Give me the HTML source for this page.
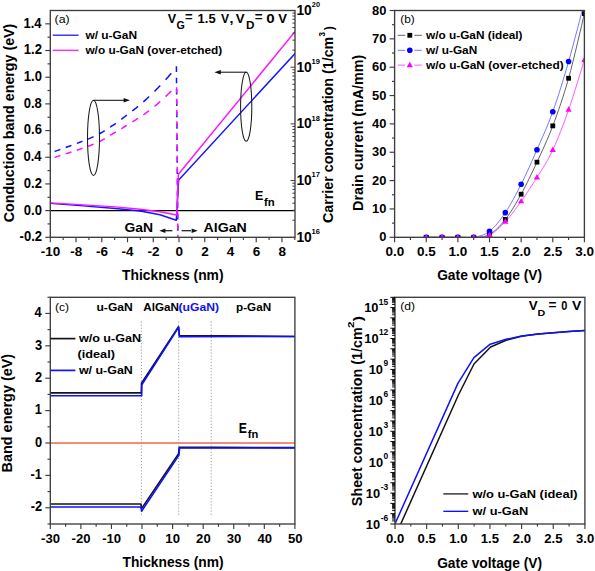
<!DOCTYPE html><html><head><meta charset="utf-8"><style>html,body{margin:0;padding:0;background:#fff;overflow:hidden}svg{display:block}</style></head><body><svg width="595" height="571" viewBox="0 0 595 571" style="font-family:&quot;Liberation Sans&quot;, sans-serif">
<rect width="595" height="571" fill="#fff"/>
<clipPath id="ca"><rect x="50.3" y="10.5" width="244.7" height="226.8"/></clipPath>
<g clip-path="url(#ca)">
<line x1="50.3" y1="210.7" x2="295" y2="210.7" stroke="#000" stroke-width="1.3" />
<polyline points="54.6,151.53 55.59,151.16 56.98,150.65 58.55,150.08 60.29,149.45 60.3,149.45" fill="none" stroke="#1010ff" stroke-width="1.5" stroke-linejoin="round" stroke-linecap="butt"/>
<polyline points="65.7,147.49 66.25,147.29 68.43,146.5 70.66,145.68 71.4,145.41" fill="none" stroke="#1010ff" stroke-width="1.5" stroke-linejoin="round" stroke-linecap="butt"/>
<polyline points="76.8,143.4 77.55,143.12 79.84,142.25 82.09,141.39 82.5,141.23" fill="none" stroke="#1010ff" stroke-width="1.5" stroke-linejoin="round" stroke-linecap="butt"/>
<polyline points="87.9,139.08 88.42,138.87 90.32,138.08 92.09,137.32 93.6,136.64" fill="none" stroke="#1010ff" stroke-width="1.5" stroke-linejoin="round" stroke-linecap="butt"/>
<polyline points="99,133.97 99.42,133.74 100.73,133.02 102,132.3 103.23,131.58 104.4,130.87 104.7,130.69" fill="none" stroke="#1010ff" stroke-width="1.5" stroke-linejoin="round" stroke-linecap="butt"/>
<polyline points="110.1,127.2 110.62,126.85 111.52,126.24 112.39,125.66 113.22,125.1 114.01,124.57 114.77,124.07 115.5,123.6 115.8,123.41" fill="none" stroke="#1010ff" stroke-width="1.5" stroke-linejoin="round" stroke-linecap="butt"/>
<polyline points="121.2,119.38 121.66,119.02 122.2,118.6 122.82,118.13 123.49,117.62 124.22,117.07 124.99,116.48 125.8,115.86 126.65,115.22 126.9,115.03" fill="none" stroke="#1010ff" stroke-width="1.5" stroke-linejoin="round" stroke-linecap="butt"/>
<polyline points="132.3,110.91 133.07,110.32 133.99,109.61 134.88,108.91 135.76,108.22 136.6,107.55 137.41,106.91 138,106.43" fill="none" stroke="#1010ff" stroke-width="1.5" stroke-linejoin="round" stroke-linecap="butt"/>
<polyline points="143.4,101.85 143.72,101.56 144.25,101.09 144.77,100.61 145.29,100.14 145.8,99.67 146.31,99.2 146.82,98.72 147.33,98.24 147.84,97.75 148.37,97.25 148.9,96.75 149.1,96.56" fill="none" stroke="#1010ff" stroke-width="1.5" stroke-linejoin="round" stroke-linecap="butt"/>
<polyline points="154.5,91.33 154.64,91.19 155.23,90.6 155.82,90.02 156.4,89.43 156.99,88.84 157.57,88.26 158.15,87.67 158.72,87.08 159.29,86.5 159.85,85.92 160.2,85.56" fill="none" stroke="#1010ff" stroke-width="1.5" stroke-linejoin="round" stroke-linecap="butt"/>
<polyline points="165.6,79.75 165.99,79.31 166.55,78.69 167.09,78.08 167.63,77.47 168.15,76.89 168.65,76.32 169.14,75.77 169.6,75.25 170.04,74.75 170.45,74.28 170.83,73.85 171.18,73.46 171.3,73.32" fill="none" stroke="#1010ff" stroke-width="1.5" stroke-linejoin="round" stroke-linecap="butt"/>
<polyline points="54.6,157.43 55.59,157.11 56.98,156.65 58.55,156.14 60.29,155.58 60.3,155.58" fill="none" stroke="#ff10ff" stroke-width="1.5" stroke-linejoin="round" stroke-linecap="butt"/>
<polyline points="65.7,153.84 66.25,153.66 68.43,152.96 70.66,152.23 71.4,151.99" fill="none" stroke="#ff10ff" stroke-width="1.5" stroke-linejoin="round" stroke-linecap="butt"/>
<polyline points="76.8,150.2 77.55,149.95 79.84,149.18 82.09,148.4 82.5,148.26" fill="none" stroke="#ff10ff" stroke-width="1.5" stroke-linejoin="round" stroke-linecap="butt"/>
<polyline points="87.9,146.34 88.42,146.15 90.32,145.44 92.09,144.75 93.6,144.14" fill="none" stroke="#ff10ff" stroke-width="1.5" stroke-linejoin="round" stroke-linecap="butt"/>
<polyline points="99,141.72 99.15,141.65 100.34,141.06 101.48,140.47 102.56,139.89 103.6,139.31 104.61,138.73 104.7,138.68" fill="none" stroke="#ff10ff" stroke-width="1.5" stroke-linejoin="round" stroke-linecap="butt"/>
<polyline points="110.1,135.38 110.35,135.23 111.32,134.62 112.31,134.01 113.33,133.39 114.39,132.75 115.5,132.1 115.8,131.92" fill="none" stroke="#ff10ff" stroke-width="1.5" stroke-linejoin="round" stroke-linecap="butt"/>
<polyline points="121.2,128.73 121.53,128.54 122.79,127.78 124.06,127.01 125.34,126.24 126.61,125.47 126.9,125.29" fill="none" stroke="#ff10ff" stroke-width="1.5" stroke-linejoin="round" stroke-linecap="butt"/>
<polyline points="132.3,121.96 132.73,121.69 133.88,120.98 134.98,120.29 136.04,119.62 137.05,118.98 138,118.38" fill="none" stroke="#ff10ff" stroke-width="1.5" stroke-linejoin="round" stroke-linecap="butt"/>
<polyline points="143.4,114.82 143.68,114.63 144.21,114.26 144.71,113.9 145.19,113.55 145.66,113.21 146.12,112.87 146.58,112.53 147.03,112.19 147.49,111.84 147.95,111.48 148.43,111.11 148.93,110.73 149.1,110.59" fill="none" stroke="#ff10ff" stroke-width="1.5" stroke-linejoin="round" stroke-linecap="butt"/>
<polyline points="154.5,106.34 154.6,106.26 155.18,105.79 155.76,105.31 156.34,104.83 156.92,104.35 157.5,103.86 158.07,103.37 158.65,102.88 159.23,102.39 159.8,101.89 160.2,101.54" fill="none" stroke="#ff10ff" stroke-width="1.5" stroke-linejoin="round" stroke-linecap="butt"/>
<polyline points="165.6,96.59 165.77,96.44 166.39,95.84 167.01,95.24 167.62,94.64 168.22,94.06 168.81,93.49 169.37,92.94 169.91,92.41 170.43,91.91 170.92,91.43 171.3,91.06" fill="none" stroke="#ff10ff" stroke-width="1.5" stroke-linejoin="round" stroke-linecap="butt"/>
<line x1="176.4" y1="66.3" x2="177.9" y2="240" stroke="#1010ff" stroke-width="1.5" stroke-dasharray="5.6 5.75"/>
<line x1="176.6" y1="87.3" x2="177.9" y2="240" stroke="#ff10ff" stroke-width="1.5" stroke-dasharray="5.8 5.55"/>
<polyline points="50.3,203.4 80,205.6 115.5,208.5 140,211 160,214.8 176.3,220.2 178.7,180 296,52.56" fill="none" stroke="#1414ff" stroke-width="1.45" stroke-linejoin="round" />
<polyline points="50.3,202.9 80,204.6 115.5,206.9 140,209.2 160,211.8 176.7,215 178.4,174.3 296,30.34" fill="none" stroke="#ff14ff" stroke-width="1.45" stroke-linejoin="round" />
</g>
<rect x="50.3" y="10.5" width="244.7" height="226.8" fill="none" stroke="#3d3d3d" stroke-width="1.35"/>
<line x1="45.3" y1="237.28" x2="50.3" y2="237.28" stroke="#3d3d3d" stroke-width="1.15" />
<text transform="translate(19.55,241.18) scale(0.9200,1)" font-size="14.2" font-weight="bold" fill="#000">-0.2</text>
<line x1="47.5" y1="223.94" x2="50.3" y2="223.94" stroke="#3d3d3d" stroke-width="1.15" />
<line x1="45.3" y1="210.6" x2="50.3" y2="210.6" stroke="#3d3d3d" stroke-width="1.15" />
<text transform="translate(23.86,214.5) scale(0.9200,1)" font-size="14.2" font-weight="bold" fill="#000">0.0</text>
<line x1="47.5" y1="197.26" x2="50.3" y2="197.26" stroke="#3d3d3d" stroke-width="1.15" />
<line x1="45.3" y1="183.92" x2="50.3" y2="183.92" stroke="#3d3d3d" stroke-width="1.15" />
<text transform="translate(23.86,187.82) scale(0.9200,1)" font-size="14.2" font-weight="bold" fill="#000">0.2</text>
<line x1="47.5" y1="170.58" x2="50.3" y2="170.58" stroke="#3d3d3d" stroke-width="1.15" />
<line x1="45.3" y1="157.24" x2="50.3" y2="157.24" stroke="#3d3d3d" stroke-width="1.15" />
<text transform="translate(23.41,161.14) scale(0.9200,1)" font-size="14.2" font-weight="bold" fill="#000">0.4</text>
<line x1="47.5" y1="143.9" x2="50.3" y2="143.9" stroke="#3d3d3d" stroke-width="1.15" />
<line x1="45.3" y1="130.56" x2="50.3" y2="130.56" stroke="#3d3d3d" stroke-width="1.15" />
<text transform="translate(23.8,134.46) scale(0.9200,1)" font-size="14.2" font-weight="bold" fill="#000">0.6</text>
<line x1="47.5" y1="117.22" x2="50.3" y2="117.22" stroke="#3d3d3d" stroke-width="1.15" />
<line x1="45.3" y1="103.88" x2="50.3" y2="103.88" stroke="#3d3d3d" stroke-width="1.15" />
<text transform="translate(23.73,107.78) scale(0.9200,1)" font-size="14.2" font-weight="bold" fill="#000">0.8</text>
<line x1="47.5" y1="90.54" x2="50.3" y2="90.54" stroke="#3d3d3d" stroke-width="1.15" />
<line x1="45.3" y1="77.2" x2="50.3" y2="77.2" stroke="#3d3d3d" stroke-width="1.15" />
<text transform="translate(23.86,81.1) scale(0.9200,1)" font-size="14.2" font-weight="bold" fill="#000">1.0</text>
<line x1="47.5" y1="63.86" x2="50.3" y2="63.86" stroke="#3d3d3d" stroke-width="1.15" />
<line x1="45.3" y1="50.52" x2="50.3" y2="50.52" stroke="#3d3d3d" stroke-width="1.15" />
<text transform="translate(23.86,54.42) scale(0.9200,1)" font-size="14.2" font-weight="bold" fill="#000">1.2</text>
<line x1="47.5" y1="37.18" x2="50.3" y2="37.18" stroke="#3d3d3d" stroke-width="1.15" />
<line x1="45.3" y1="23.84" x2="50.3" y2="23.84" stroke="#3d3d3d" stroke-width="1.15" />
<text transform="translate(23.41,27.74) scale(0.9200,1)" font-size="14.2" font-weight="bold" fill="#000">1.4</text>
<line x1="50.3" y1="237.3" x2="50.3" y2="242.3" stroke="#3d3d3d" stroke-width="1.15" />
<text transform="translate(40.75,256) scale(1.0000,1)" font-size="13.5" font-weight="bold" fill="#000">-10</text>
<line x1="63.17" y1="237.3" x2="63.17" y2="240.1" stroke="#3d3d3d" stroke-width="1.15" />
<line x1="76.04" y1="237.3" x2="76.04" y2="242.3" stroke="#3d3d3d" stroke-width="1.15" />
<text transform="translate(70.16,256) scale(1.0000,1)" font-size="13.5" font-weight="bold" fill="#000">-8</text>
<line x1="88.91" y1="237.3" x2="88.91" y2="240.1" stroke="#3d3d3d" stroke-width="1.15" />
<line x1="101.78" y1="237.3" x2="101.78" y2="242.3" stroke="#3d3d3d" stroke-width="1.15" />
<text transform="translate(95.94,256) scale(1.0000,1)" font-size="13.5" font-weight="bold" fill="#000">-6</text>
<line x1="114.65" y1="237.3" x2="114.65" y2="240.1" stroke="#3d3d3d" stroke-width="1.15" />
<line x1="127.52" y1="237.3" x2="127.52" y2="242.3" stroke="#3d3d3d" stroke-width="1.15" />
<text transform="translate(121.48,256) scale(1.0000,1)" font-size="13.5" font-weight="bold" fill="#000">-4</text>
<line x1="140.39" y1="237.3" x2="140.39" y2="240.1" stroke="#3d3d3d" stroke-width="1.15" />
<line x1="153.26" y1="237.3" x2="153.26" y2="242.3" stroke="#3d3d3d" stroke-width="1.15" />
<text transform="translate(147.45,256) scale(1.0000,1)" font-size="13.5" font-weight="bold" fill="#000">-2</text>
<line x1="166.13" y1="237.3" x2="166.13" y2="240.1" stroke="#3d3d3d" stroke-width="1.15" />
<line x1="179" y1="237.3" x2="179" y2="242.3" stroke="#3d3d3d" stroke-width="1.15" />
<text transform="translate(175.45,256) scale(1.0000,1)" font-size="13.5" font-weight="bold" fill="#000">0</text>
<line x1="191.87" y1="237.3" x2="191.87" y2="240.1" stroke="#3d3d3d" stroke-width="1.15" />
<line x1="204.74" y1="237.3" x2="204.74" y2="242.3" stroke="#3d3d3d" stroke-width="1.15" />
<text transform="translate(201.23,256) scale(1.0000,1)" font-size="13.5" font-weight="bold" fill="#000">2</text>
<line x1="217.61" y1="237.3" x2="217.61" y2="240.1" stroke="#3d3d3d" stroke-width="1.15" />
<line x1="230.48" y1="237.3" x2="230.48" y2="242.3" stroke="#3d3d3d" stroke-width="1.15" />
<text transform="translate(226.87,256) scale(1.0000,1)" font-size="13.5" font-weight="bold" fill="#000">4</text>
<line x1="243.35" y1="237.3" x2="243.35" y2="240.1" stroke="#3d3d3d" stroke-width="1.15" />
<line x1="256.22" y1="237.3" x2="256.22" y2="242.3" stroke="#3d3d3d" stroke-width="1.15" />
<text transform="translate(252.67,256) scale(1.0000,1)" font-size="13.5" font-weight="bold" fill="#000">6</text>
<line x1="269.09" y1="237.3" x2="269.09" y2="240.1" stroke="#3d3d3d" stroke-width="1.15" />
<line x1="281.96" y1="237.3" x2="281.96" y2="242.3" stroke="#3d3d3d" stroke-width="1.15" />
<text transform="translate(278.41,256) scale(1.0000,1)" font-size="13.5" font-weight="bold" fill="#000">8</text>
<line x1="294.83" y1="237.3" x2="294.83" y2="240.1" stroke="#3d3d3d" stroke-width="1.15" />
<line x1="292.4" y1="220.23" x2="295" y2="220.23" stroke="#3d3d3d" stroke-width="1.0" />
<line x1="292.4" y1="210.25" x2="295" y2="210.25" stroke="#3d3d3d" stroke-width="1.0" />
<line x1="292.4" y1="203.16" x2="295" y2="203.16" stroke="#3d3d3d" stroke-width="1.0" />
<line x1="292.4" y1="197.67" x2="295" y2="197.67" stroke="#3d3d3d" stroke-width="1.0" />
<line x1="292.4" y1="193.18" x2="295" y2="193.18" stroke="#3d3d3d" stroke-width="1.0" />
<line x1="292.4" y1="189.38" x2="295" y2="189.38" stroke="#3d3d3d" stroke-width="1.0" />
<line x1="292.4" y1="186.09" x2="295" y2="186.09" stroke="#3d3d3d" stroke-width="1.0" />
<line x1="292.4" y1="183.19" x2="295" y2="183.19" stroke="#3d3d3d" stroke-width="1.0" />
<line x1="290.5" y1="180.6" x2="295" y2="180.6" stroke="#3d3d3d" stroke-width="1.0" />
<line x1="292.4" y1="163.53" x2="295" y2="163.53" stroke="#3d3d3d" stroke-width="1.0" />
<line x1="292.4" y1="153.55" x2="295" y2="153.55" stroke="#3d3d3d" stroke-width="1.0" />
<line x1="292.4" y1="146.46" x2="295" y2="146.46" stroke="#3d3d3d" stroke-width="1.0" />
<line x1="292.4" y1="140.97" x2="295" y2="140.97" stroke="#3d3d3d" stroke-width="1.0" />
<line x1="292.4" y1="136.48" x2="295" y2="136.48" stroke="#3d3d3d" stroke-width="1.0" />
<line x1="292.4" y1="132.68" x2="295" y2="132.68" stroke="#3d3d3d" stroke-width="1.0" />
<line x1="292.4" y1="129.39" x2="295" y2="129.39" stroke="#3d3d3d" stroke-width="1.0" />
<line x1="292.4" y1="126.49" x2="295" y2="126.49" stroke="#3d3d3d" stroke-width="1.0" />
<line x1="290.5" y1="123.9" x2="295" y2="123.9" stroke="#3d3d3d" stroke-width="1.0" />
<line x1="292.4" y1="106.83" x2="295" y2="106.83" stroke="#3d3d3d" stroke-width="1.0" />
<line x1="292.4" y1="96.85" x2="295" y2="96.85" stroke="#3d3d3d" stroke-width="1.0" />
<line x1="292.4" y1="89.76" x2="295" y2="89.76" stroke="#3d3d3d" stroke-width="1.0" />
<line x1="292.4" y1="84.27" x2="295" y2="84.27" stroke="#3d3d3d" stroke-width="1.0" />
<line x1="292.4" y1="79.78" x2="295" y2="79.78" stroke="#3d3d3d" stroke-width="1.0" />
<line x1="292.4" y1="75.98" x2="295" y2="75.98" stroke="#3d3d3d" stroke-width="1.0" />
<line x1="292.4" y1="72.69" x2="295" y2="72.69" stroke="#3d3d3d" stroke-width="1.0" />
<line x1="292.4" y1="69.79" x2="295" y2="69.79" stroke="#3d3d3d" stroke-width="1.0" />
<line x1="290.5" y1="67.2" x2="295" y2="67.2" stroke="#3d3d3d" stroke-width="1.0" />
<line x1="292.4" y1="50.13" x2="295" y2="50.13" stroke="#3d3d3d" stroke-width="1.0" />
<line x1="292.4" y1="40.15" x2="295" y2="40.15" stroke="#3d3d3d" stroke-width="1.0" />
<line x1="292.4" y1="33.06" x2="295" y2="33.06" stroke="#3d3d3d" stroke-width="1.0" />
<line x1="292.4" y1="27.57" x2="295" y2="27.57" stroke="#3d3d3d" stroke-width="1.0" />
<line x1="292.4" y1="23.08" x2="295" y2="23.08" stroke="#3d3d3d" stroke-width="1.0" />
<line x1="292.4" y1="19.28" x2="295" y2="19.28" stroke="#3d3d3d" stroke-width="1.0" />
<line x1="292.4" y1="15.99" x2="295" y2="15.99" stroke="#3d3d3d" stroke-width="1.0" />
<line x1="292.4" y1="13.09" x2="295" y2="13.09" stroke="#3d3d3d" stroke-width="1.0" />
<text transform="translate(296.4,241.8) scale(0.9740,1)" font-size="14.2" font-weight="bold" fill="#000">10</text>
<text transform="translate(311.61,233.9) scale(1.0169,1)" font-size="7.4" font-weight="bold" fill="#000">16</text>
<text transform="translate(296.4,185.1) scale(0.9740,1)" font-size="14.2" font-weight="bold" fill="#000">10</text>
<text transform="translate(311.61,177.2) scale(1.0270,1)" font-size="7.4" font-weight="bold" fill="#000">17</text>
<text transform="translate(296.4,128.4) scale(0.9740,1)" font-size="14.2" font-weight="bold" fill="#000">10</text>
<text transform="translate(311.61,120.5) scale(1.0118,1)" font-size="7.4" font-weight="bold" fill="#000">18</text>
<text transform="translate(296.4,71.7) scale(0.9740,1)" font-size="14.2" font-weight="bold" fill="#000">10</text>
<text transform="translate(311.61,63.8) scale(1.0169,1)" font-size="7.4" font-weight="bold" fill="#000">19</text>
<text transform="translate(296.4,15) scale(0.9740,1)" font-size="14.2" font-weight="bold" fill="#000">10</text>
<text transform="translate(311.84,7.1) scale(0.9923,1)" font-size="7.4" font-weight="bold" fill="#000">20</text>
<text transform="translate(13.5,222.27) rotate(-90) scale(0.9632,1)" font-size="14.8" font-weight="bold" fill="#000">Conduction band energy (eV)</text>
<text transform="translate(121.96,279.9) scale(0.9622,1)" font-size="14.4" font-weight="bold" fill="#000">Thickness (nm)</text>
<text transform="translate(333.2,223.07) rotate(-90) scale(0.9649,1)" font-size="14.8" font-weight="bold" fill="#000">Carrier concentration (1/cm</text>
<text transform="translate(324.6,36.4) rotate(-90) scale(0.9288,1)" font-size="8.7" font-weight="bold" fill="#000">3</text>
<text transform="translate(332.8,30.16) rotate(-90) scale(0.9191,1)" font-size="13.6" font-weight="bold" fill="#000">)</text>
<text transform="translate(54.56,22.6) scale(1.2004,1)" font-size="10.3" font-weight="normal" fill="#000">(a)</text>
<line x1="52.7" y1="35.2" x2="78.6" y2="35.2" stroke="#1414ff" stroke-width="1.25" />
<line x1="52.7" y1="50.3" x2="78.6" y2="50.3" stroke="#ff14ff" stroke-width="1.25" />
<text transform="translate(85.4,39) scale(1.1366,1)" font-size="10.5" font-weight="bold" fill="#000">w/ u-GaN</text>
<text transform="translate(85.4,54.1) scale(1.1286,1)" font-size="10.5" font-weight="bold" fill="#000">w/o u-GaN (over-etched)</text>
<text transform="translate(167.77,22.9) scale(0.9779,1)" font-size="12.9" font-weight="bold" fill="#000">V</text>
<text transform="translate(176.57,28.7) scale(1.0458,1)" font-size="10.2" font-weight="bold" fill="#000">G</text>
<text transform="translate(184.88,21.4) scale(1.0131,1)" font-size="12.9" font-weight="bold" fill="#000">=</text>
<text transform="translate(197.56,22.9) scale(1.0078,1)" font-size="12.9" font-weight="bold" fill="#000">1.5</text>
<text transform="translate(221.08,22.9) scale(0.9422,1)" font-size="12.9" font-weight="bold" fill="#000">V</text>
<text transform="translate(229.5,22.9) scale(1.1074,1)" font-size="12.9" font-weight="bold" fill="#000">,</text>
<text transform="translate(235.77,22.9) scale(1.0256,1)" font-size="12.9" font-weight="bold" fill="#000">V</text>
<text transform="translate(245.94,28.7) scale(1.1478,1)" font-size="10.2" font-weight="bold" fill="#000">D</text>
<text transform="translate(254.66,21.4) scale(1.0438,1)" font-size="12.9" font-weight="bold" fill="#000">=</text>
<text transform="translate(266.29,22.9) scale(1.1750,1)" font-size="12.9" font-weight="bold" fill="#000">0</text>
<text transform="translate(278.17,22.9) scale(1.0137,1)" font-size="12.9" font-weight="bold" fill="#000">V</text>
<text transform="translate(124.54,231.6) scale(1.0449,1)" font-size="13.3" font-weight="bold" fill="#000">GaN</text>
<text transform="translate(203.55,231.6) scale(1.0625,1)" font-size="13.3" font-weight="bold" fill="#000">AlGaN</text>
<text transform="translate(254.98,200.1) scale(0.9308,1)" font-size="13.5" font-weight="bold" fill="#000">E</text>
<text transform="translate(263.93,205.9) scale(0.9982,1)" font-size="11.4" font-weight="bold" fill="#000">fn</text>
<line x1="164" y1="230.7" x2="172.4" y2="230.7" stroke="#1a1a1a" stroke-width="1.25" />
<path d="M159.3,230.7 L165.4,228.5 L165.4,232.9 Z" fill="#111"/>
<line x1="181.6" y1="230.7" x2="191" y2="230.7" stroke="#1a1a1a" stroke-width="1.25" />
<path d="M197.7,230.7 L191.6,228.5 L191.6,232.9 Z" fill="#111"/>
<ellipse cx="93.5" cy="137.8" rx="6.0" ry="37.6" fill="none" stroke="#1a1a1a" stroke-width="1.05"/>
<line x1="93.5" y1="100.3" x2="124" y2="100.3" stroke="#111" stroke-width="1.05" />
<path d="M130,100.3 L123.6,98.0 L123.6,102.6 Z" fill="#111"/>
<ellipse cx="246.2" cy="106.7" rx="5.6" ry="34.6" fill="none" stroke="#1a1a1a" stroke-width="1.05"/>
<line x1="246.2" y1="72.2" x2="220" y2="72.2" stroke="#111" stroke-width="1.05" />
<path d="M214.4,72.2 L220.8,69.9 L220.8,74.5 Z" fill="#111"/>
<clipPath id="cb"><rect x="394.6" y="10.5" width="189.79999999999995" height="226.8"/></clipPath>
<g clip-path="url(#cb)">
<polyline points="426.24,237.3 427.46,237.3 429.08,237.3 431.01,237.3 433.16,237.3 435.43,237.3 437.73,237.3 439.97,237.3 442.05,237.3 444.03,237.3 446.01,237.3 447.98,237.3 449.96,237.3 451.94,237.3 453.92,237.3 455.89,237.3 457.87,237.3 459.85,237.32 461.82,237.37 463.8,237.42 465.78,237.48 467.76,237.51 469.73,237.5 471.71,237.44 473.69,237.3 475.66,237.16 477.64,237.08 479.62,236.98 481.6,236.82 483.57,236.55 485.55,236.1 487.53,235.42 489.5,234.47 491.48,233.24 493.46,231.8 495.44,230.17 497.41,228.35 499.39,226.36 501.37,224.2 503.35,221.89 505.32,219.44 507.3,216.82 509.28,214.01 511.25,211.02 513.23,207.89 515.21,204.62 517.19,201.23 519.16,197.76 521.14,194.21 523.12,190.56 525.09,186.78 527.07,182.88 529.05,178.88 531.03,174.8 533,170.64 534.98,166.43 536.96,162.17 538.93,157.92 540.91,153.67 542.89,149.37 544.87,145 546.84,140.51 548.82,135.85 550.8,130.99 552.78,125.88 554.75,120.59 556.73,115.17 558.71,109.6 560.68,103.84 562.66,97.86 564.64,91.63 566.62,85.1 568.59,78.26 570.68,70.55 572.92,61.78 575.22,52.42 577.49,42.96 579.64,33.87 581.57,25.63 583.19,18.72 584.41,13.62" fill="none" stroke="#5a5a5a" stroke-width="0.95" stroke-linejoin="round" />
<polyline points="426.24,237.3 427.46,237.3 429.08,237.3 431.01,237.3 433.16,237.3 435.43,237.3 437.73,237.3 439.97,237.3 442.05,237.3 444.03,237.3 446.01,237.3 447.98,237.3 449.96,237.3 451.94,237.3 453.92,237.3 455.89,237.3 457.87,237.3 459.85,237.34 461.82,237.44 463.8,237.56 465.78,237.67 467.76,237.74 469.73,237.72 471.71,237.58 473.69,237.3 475.66,236.93 477.64,236.53 479.62,236.06 481.6,235.49 483.57,234.78 485.55,233.87 487.53,232.74 489.5,231.35 491.48,229.68 493.46,227.79 495.44,225.69 497.41,223.39 499.39,220.92 501.37,218.29 503.35,215.52 505.32,212.64 507.3,209.6 509.28,206.37 511.25,202.98 513.23,199.45 515.21,195.8 517.19,192.04 519.16,188.19 521.14,184.29 523.12,180.28 525.09,176.16 527.07,171.92 529.05,167.59 531.03,163.19 533,158.73 534.98,154.23 536.96,149.7 538.93,145.2 540.91,140.73 542.89,136.24 544.87,131.68 546.84,127 548.82,122.14 550.8,117.06 552.78,111.71 554.75,106.08 556.73,100.24 558.71,94.2 560.68,87.97 562.66,81.57 564.64,75.02 566.62,68.33 568.59,61.53 570.68,54.13 572.92,45.91 575.22,37.27 577.49,28.63 579.64,20.37 581.57,12.91 583.19,6.65 584.41,2" fill="none" stroke="#7070ff" stroke-width="0.95" stroke-linejoin="round" />
<polyline points="426.24,237.3 427.46,237.3 429.08,237.3 431.01,237.3 433.16,237.3 435.43,237.3 437.73,237.3 439.97,237.3 442.05,237.3 444.03,237.3 446.01,237.3 447.98,237.3 449.96,237.3 451.94,237.3 453.92,237.3 455.89,237.3 457.87,237.3 459.85,237.32 461.82,237.35 463.8,237.4 465.78,237.44 467.76,237.47 469.73,237.46 471.71,237.41 473.69,237.3 475.66,237.2 477.64,237.15 479.62,237.1 481.6,237 483.57,236.79 485.55,236.43 487.53,235.86 489.5,235.03 491.48,233.94 493.46,232.64 495.44,231.16 497.41,229.5 499.39,227.71 501.37,225.8 503.35,223.79 505.32,221.71 507.3,219.52 509.28,217.18 511.25,214.72 513.23,212.16 515.21,209.51 517.19,206.8 519.16,204.06 521.14,201.3 523.12,198.51 525.09,195.67 527.07,192.78 529.05,189.83 531.03,186.83 533,183.77 534.98,180.66 536.96,177.48 538.93,174.31 540.91,171.16 542.89,168 544.87,164.76 546.84,161.39 548.82,157.84 550.8,154.06 552.78,149.98 554.75,145.63 556.73,141.04 558.71,136.24 560.68,131.25 562.66,126.09 564.64,120.77 566.62,115.31 568.59,109.73 570.68,103.61 572.92,96.76 575.22,89.53 577.49,82.26 579.64,75.31 581.57,69.02 583.19,63.74 584.41,59.83" fill="none" stroke="#ff50ff" stroke-width="0.95" stroke-linejoin="round" />
</g>
<g clip-path="url(#cb)">
<rect x="423.84" y="234.9" width="4.8" height="4.8" fill="#000"/>
<rect x="439.65" y="234.9" width="4.8" height="4.8" fill="#000"/>
<rect x="455.47" y="234.9" width="4.8" height="4.8" fill="#000"/>
<rect x="471.29" y="234.9" width="4.8" height="4.8" fill="#000"/>
<rect x="487.11" y="232.06" width="4.8" height="4.8" fill="#000"/>
<rect x="502.92" y="217.04" width="4.8" height="4.8" fill="#000"/>
<rect x="518.74" y="191.81" width="4.8" height="4.8" fill="#000"/>
<rect x="534.56" y="159.77" width="4.8" height="4.8" fill="#000"/>
<rect x="550.38" y="123.48" width="4.8" height="4.8" fill="#000"/>
<rect x="566.19" y="75.86" width="4.8" height="4.8" fill="#000"/>
<rect x="582.01" y="11.22" width="4.8" height="4.8" fill="#000"/>
<circle cx="426.24" cy="237.3" r="2.8" fill="#0000ff"/>
<circle cx="442.05" cy="237.3" r="2.8" fill="#0000ff"/>
<circle cx="457.87" cy="237.3" r="2.8" fill="#0000ff"/>
<circle cx="473.69" cy="237.3" r="2.8" fill="#0000ff"/>
<circle cx="489.5" cy="231.35" r="2.8" fill="#0000ff"/>
<circle cx="505.32" cy="212.64" r="2.8" fill="#0000ff"/>
<circle cx="521.14" cy="184.29" r="2.8" fill="#0000ff"/>
<circle cx="536.96" cy="149.7" r="2.8" fill="#0000ff"/>
<circle cx="552.78" cy="111.71" r="2.8" fill="#0000ff"/>
<circle cx="568.59" cy="61.53" r="2.8" fill="#0000ff"/>
<path d="M426.24,233.92 L429.34,239.37 L423.13,239.37 Z" fill="#ff00ff"/>
<path d="M442.05,233.92 L445.15,239.37 L438.95,239.37 Z" fill="#ff00ff"/>
<path d="M457.87,233.92 L460.97,239.37 L454.77,239.37 Z" fill="#ff00ff"/>
<path d="M473.69,233.92 L476.79,239.37 L470.59,239.37 Z" fill="#ff00ff"/>
<path d="M489.5,231.65 L492.61,237.11 L486.4,237.11 Z" fill="#ff00ff"/>
<path d="M505.32,218.32 L508.42,223.78 L502.22,223.78 Z" fill="#ff00ff"/>
<path d="M521.14,197.91 L524.24,203.37 L518.04,203.37 Z" fill="#ff00ff"/>
<path d="M536.96,174.1 L540.06,179.55 L533.86,179.55 Z" fill="#ff00ff"/>
<path d="M552.78,146.6 L555.88,152.06 L549.68,152.06 Z" fill="#ff00ff"/>
<path d="M568.59,106.34 L571.69,111.8 L565.49,111.8 Z" fill="#ff00ff"/>
<path d="M584.41,56.45 L587.51,61.9 L581.31,61.9 Z" fill="#ff00ff"/>
</g>
<rect x="394.6" y="10.5" width="189.79999999999995" height="226.8" fill="none" stroke="#3d3d3d" stroke-width="1.35"/>
<line x1="389.6" y1="237.3" x2="394.6" y2="237.3" stroke="#3d3d3d" stroke-width="1.15" />
<text transform="translate(379.16,241.3) scale(0.9700,1)" font-size="13.3" font-weight="bold" fill="#000">0</text>
<line x1="392" y1="223.12" x2="394.6" y2="223.12" stroke="#3d3d3d" stroke-width="1.15" />
<line x1="389.6" y1="208.95" x2="394.6" y2="208.95" stroke="#3d3d3d" stroke-width="1.15" />
<text transform="translate(372,212.95) scale(0.9700,1)" font-size="13.3" font-weight="bold" fill="#000">10</text>
<line x1="392" y1="194.78" x2="394.6" y2="194.78" stroke="#3d3d3d" stroke-width="1.15" />
<line x1="389.6" y1="180.6" x2="394.6" y2="180.6" stroke="#3d3d3d" stroke-width="1.15" />
<text transform="translate(372,184.6) scale(0.9700,1)" font-size="13.3" font-weight="bold" fill="#000">20</text>
<line x1="392" y1="166.43" x2="394.6" y2="166.43" stroke="#3d3d3d" stroke-width="1.15" />
<line x1="389.6" y1="152.25" x2="394.6" y2="152.25" stroke="#3d3d3d" stroke-width="1.15" />
<text transform="translate(372,156.25) scale(0.9700,1)" font-size="13.3" font-weight="bold" fill="#000">30</text>
<line x1="392" y1="138.08" x2="394.6" y2="138.08" stroke="#3d3d3d" stroke-width="1.15" />
<line x1="389.6" y1="123.9" x2="394.6" y2="123.9" stroke="#3d3d3d" stroke-width="1.15" />
<text transform="translate(372,127.9) scale(0.9700,1)" font-size="13.3" font-weight="bold" fill="#000">40</text>
<line x1="392" y1="109.73" x2="394.6" y2="109.73" stroke="#3d3d3d" stroke-width="1.15" />
<line x1="389.6" y1="95.55" x2="394.6" y2="95.55" stroke="#3d3d3d" stroke-width="1.15" />
<text transform="translate(372,99.55) scale(0.9700,1)" font-size="13.3" font-weight="bold" fill="#000">50</text>
<line x1="392" y1="81.38" x2="394.6" y2="81.38" stroke="#3d3d3d" stroke-width="1.15" />
<line x1="389.6" y1="67.2" x2="394.6" y2="67.2" stroke="#3d3d3d" stroke-width="1.15" />
<text transform="translate(372,71.2) scale(0.9700,1)" font-size="13.3" font-weight="bold" fill="#000">60</text>
<line x1="392" y1="53.03" x2="394.6" y2="53.03" stroke="#3d3d3d" stroke-width="1.15" />
<line x1="389.6" y1="38.85" x2="394.6" y2="38.85" stroke="#3d3d3d" stroke-width="1.15" />
<text transform="translate(372,42.85) scale(0.9700,1)" font-size="13.3" font-weight="bold" fill="#000">70</text>
<line x1="392" y1="24.68" x2="394.6" y2="24.68" stroke="#3d3d3d" stroke-width="1.15" />
<line x1="389.6" y1="10.5" x2="394.6" y2="10.5" stroke="#3d3d3d" stroke-width="1.15" />
<text transform="translate(372,14.5) scale(0.9700,1)" font-size="13.3" font-weight="bold" fill="#000">80</text>
<line x1="394.6" y1="237.3" x2="394.6" y2="242.3" stroke="#3d3d3d" stroke-width="1.15" />
<text transform="translate(385.42,256) scale(1.0000,1)" font-size="13.5" font-weight="bold" fill="#000">0.0</text>
<line x1="410.42" y1="237.3" x2="410.42" y2="239.9" stroke="#3d3d3d" stroke-width="1.15" />
<line x1="426.24" y1="237.3" x2="426.24" y2="242.3" stroke="#3d3d3d" stroke-width="1.15" />
<text transform="translate(416.95,256) scale(1.0000,1)" font-size="13.5" font-weight="bold" fill="#000">0.5</text>
<line x1="442.05" y1="237.3" x2="442.05" y2="239.9" stroke="#3d3d3d" stroke-width="1.15" />
<line x1="457.87" y1="237.3" x2="457.87" y2="242.3" stroke="#3d3d3d" stroke-width="1.15" />
<text transform="translate(448.52,256) scale(1.0000,1)" font-size="13.5" font-weight="bold" fill="#000">1.0</text>
<line x1="473.69" y1="237.3" x2="473.69" y2="239.9" stroke="#3d3d3d" stroke-width="1.15" />
<line x1="489.5" y1="237.3" x2="489.5" y2="242.3" stroke="#3d3d3d" stroke-width="1.15" />
<text transform="translate(480.05,256) scale(1.0000,1)" font-size="13.5" font-weight="bold" fill="#000">1.5</text>
<line x1="505.32" y1="237.3" x2="505.32" y2="239.9" stroke="#3d3d3d" stroke-width="1.15" />
<line x1="521.14" y1="237.3" x2="521.14" y2="242.3" stroke="#3d3d3d" stroke-width="1.15" />
<text transform="translate(511.99,256) scale(1.0000,1)" font-size="13.5" font-weight="bold" fill="#000">2.0</text>
<line x1="536.96" y1="237.3" x2="536.96" y2="239.9" stroke="#3d3d3d" stroke-width="1.15" />
<line x1="552.78" y1="237.3" x2="552.78" y2="242.3" stroke="#3d3d3d" stroke-width="1.15" />
<text transform="translate(543.53,256) scale(1.0000,1)" font-size="13.5" font-weight="bold" fill="#000">2.5</text>
<line x1="568.59" y1="237.3" x2="568.59" y2="239.9" stroke="#3d3d3d" stroke-width="1.15" />
<line x1="584.41" y1="237.3" x2="584.41" y2="242.3" stroke="#3d3d3d" stroke-width="1.15" />
<text transform="translate(575.33,256) scale(1.0000,1)" font-size="13.5" font-weight="bold" fill="#000">3.0</text>
<text transform="translate(363,210.93) rotate(-90) scale(0.9573,1)" font-size="15.0" font-weight="bold" fill="#000">Drain current (mA/mm)</text>
<text transform="translate(437.15,280.4) scale(0.9579,1)" font-size="14.4" font-weight="bold" fill="#000">Gate voltage (V)</text>
<text transform="translate(400.29,22.6) scale(1.1474,1)" font-size="10.3" font-weight="normal" fill="#000">(b)</text>
<line x1="397.7" y1="35.3" x2="405.2" y2="35.3" stroke="#5a5a5a" stroke-width="0.95" />
<line x1="414.4" y1="35.3" x2="421.9" y2="35.3" stroke="#5a5a5a" stroke-width="0.95" />
<rect x="407.4" y="32.9" width="4.8" height="4.8" fill="#000"/>
<line x1="397.7" y1="50.3" x2="405.2" y2="50.3" stroke="#7070ff" stroke-width="0.95" />
<line x1="414.4" y1="50.3" x2="421.9" y2="50.3" stroke="#7070ff" stroke-width="0.95" />
<circle cx="409.8" cy="50.3" r="2.8" fill="#0000ff"/>
<line x1="397.7" y1="65.1" x2="405.2" y2="65.1" stroke="#ff50ff" stroke-width="0.95" />
<line x1="414.4" y1="65.1" x2="421.9" y2="65.1" stroke="#ff50ff" stroke-width="0.95" />
<path d="M409.8,61.72 L412.9,67.17 L406.7,67.17 Z" fill="#ff00ff"/>
<text transform="translate(426,38.9) scale(1.0958,1)" font-size="10.8" font-weight="bold" fill="#000">w/o u-GaN (ideal)</text>
<text transform="translate(426,53.9) scale(1.0942,1)" font-size="10.8" font-weight="bold" fill="#000">w/ u-GaN</text>
<text transform="translate(426,68.8) scale(1.1045,1)" font-size="10.8" font-weight="bold" fill="#000">w/o u-GaN (over-etched)</text>
<clipPath id="cc"><rect x="50.3" y="297.3" width="244.59999999999997" height="226.7"/></clipPath>
<g clip-path="url(#cc)">
<line x1="141.4" y1="321.5" x2="141.4" y2="516" stroke="#8a8a8a" stroke-width="0.9" stroke-dasharray="1.1 2"/>
<line x1="178.7" y1="321.5" x2="178.7" y2="516" stroke="#8a8a8a" stroke-width="0.9" stroke-dasharray="1.1 2"/>
<line x1="211.2" y1="321.5" x2="211.2" y2="516" stroke="#8a8a8a" stroke-width="0.9" stroke-dasharray="1.1 2"/>
<line x1="50.3" y1="443" x2="294.9" y2="443" stroke="#f0654f" stroke-width="1.7" />
<polyline points="50.3,392.9 141.3,392.9 141.5,383.3 178.5,326.6 179.3,335.6 220,335.8 294.9,336.5" fill="none" stroke="#141414" stroke-width="1.6" stroke-linejoin="round" />
<polyline points="50.3,504 141,504 141.5,508.6 178.6,453.6 179.2,447.2 215,447.4 294.9,447.6" fill="none" stroke="#141414" stroke-width="1.6" stroke-linejoin="round" />
<polyline points="50.3,395.7 141.7,395.7 141.8,384.8 178.6,327.3 179.5,336.6 294.9,336.5" fill="none" stroke="#1010ff" stroke-width="1.6" stroke-linejoin="round" />
<polyline points="50.3,507 141,507 141.6,511.2 179,455 179.6,448 294.9,447.9" fill="none" stroke="#1010ff" stroke-width="1.6" stroke-linejoin="round" />
</g>
<rect x="50.3" y="297.3" width="244.59999999999997" height="226.7" fill="none" stroke="#3d3d3d" stroke-width="1.35"/>
<line x1="47.5" y1="523.98" x2="50.3" y2="523.98" stroke="#3d3d3d" stroke-width="1.15" />
<line x1="45.3" y1="507.78" x2="50.3" y2="507.78" stroke="#3d3d3d" stroke-width="1.15" />
<text transform="translate(30.69,511.48) scale(0.9300,1)" font-size="13.8" font-weight="bold" fill="#000">-2</text>
<line x1="47.5" y1="491.58" x2="50.3" y2="491.58" stroke="#3d3d3d" stroke-width="1.15" />
<line x1="45.3" y1="475.39" x2="50.3" y2="475.39" stroke="#3d3d3d" stroke-width="1.15" />
<text transform="translate(30.5,479.09) scale(0.9300,1)" font-size="13.8" font-weight="bold" fill="#000">-1</text>
<line x1="47.5" y1="459.19" x2="50.3" y2="459.19" stroke="#3d3d3d" stroke-width="1.15" />
<line x1="45.3" y1="443" x2="50.3" y2="443" stroke="#3d3d3d" stroke-width="1.15" />
<text transform="translate(34.99,446.7) scale(0.9300,1)" font-size="13.8" font-weight="bold" fill="#000">0</text>
<line x1="47.5" y1="426.81" x2="50.3" y2="426.81" stroke="#3d3d3d" stroke-width="1.15" />
<line x1="45.3" y1="410.61" x2="50.3" y2="410.61" stroke="#3d3d3d" stroke-width="1.15" />
<text transform="translate(34.8,414.31) scale(0.9300,1)" font-size="13.8" font-weight="bold" fill="#000">1</text>
<line x1="47.5" y1="394.42" x2="50.3" y2="394.42" stroke="#3d3d3d" stroke-width="1.15" />
<line x1="45.3" y1="378.22" x2="50.3" y2="378.22" stroke="#3d3d3d" stroke-width="1.15" />
<text transform="translate(34.99,381.92) scale(0.9300,1)" font-size="13.8" font-weight="bold" fill="#000">2</text>
<line x1="47.5" y1="362.02" x2="50.3" y2="362.02" stroke="#3d3d3d" stroke-width="1.15" />
<line x1="45.3" y1="345.83" x2="50.3" y2="345.83" stroke="#3d3d3d" stroke-width="1.15" />
<text transform="translate(34.93,349.53) scale(0.9300,1)" font-size="13.8" font-weight="bold" fill="#000">3</text>
<line x1="47.5" y1="329.63" x2="50.3" y2="329.63" stroke="#3d3d3d" stroke-width="1.15" />
<line x1="45.3" y1="313.44" x2="50.3" y2="313.44" stroke="#3d3d3d" stroke-width="1.15" />
<text transform="translate(34.54,317.14) scale(0.9300,1)" font-size="13.8" font-weight="bold" fill="#000">4</text>
<line x1="47.5" y1="297.25" x2="50.3" y2="297.25" stroke="#3d3d3d" stroke-width="1.15" />
<line x1="50.3" y1="524" x2="50.3" y2="529" stroke="#3d3d3d" stroke-width="1.15" />
<text transform="translate(41.01,542.8) scale(0.9800,1)" font-size="13.4" font-weight="bold" fill="#000">-30</text>
<line x1="65.59" y1="524" x2="65.59" y2="526.8" stroke="#3d3d3d" stroke-width="1.15" />
<line x1="80.88" y1="524" x2="80.88" y2="529" stroke="#3d3d3d" stroke-width="1.15" />
<text transform="translate(71.59,542.8) scale(0.9800,1)" font-size="13.4" font-weight="bold" fill="#000">-20</text>
<line x1="96.16" y1="524" x2="96.16" y2="526.8" stroke="#3d3d3d" stroke-width="1.15" />
<line x1="111.45" y1="524" x2="111.45" y2="529" stroke="#3d3d3d" stroke-width="1.15" />
<text transform="translate(102.16,542.8) scale(0.9800,1)" font-size="13.4" font-weight="bold" fill="#000">-10</text>
<line x1="126.74" y1="524" x2="126.74" y2="526.8" stroke="#3d3d3d" stroke-width="1.15" />
<line x1="142.03" y1="524" x2="142.03" y2="529" stroke="#3d3d3d" stroke-width="1.15" />
<text transform="translate(138.58,542.8) scale(0.9800,1)" font-size="13.4" font-weight="bold" fill="#000">0</text>
<line x1="157.31" y1="524" x2="157.31" y2="526.8" stroke="#3d3d3d" stroke-width="1.15" />
<line x1="172.6" y1="524" x2="172.6" y2="529" stroke="#3d3d3d" stroke-width="1.15" />
<text transform="translate(165.35,542.8) scale(0.9800,1)" font-size="13.4" font-weight="bold" fill="#000">10</text>
<line x1="187.89" y1="524" x2="187.89" y2="526.8" stroke="#3d3d3d" stroke-width="1.15" />
<line x1="203.18" y1="524" x2="203.18" y2="529" stroke="#3d3d3d" stroke-width="1.15" />
<text transform="translate(196.12,542.8) scale(0.9800,1)" font-size="13.4" font-weight="bold" fill="#000">20</text>
<line x1="218.46" y1="524" x2="218.46" y2="526.8" stroke="#3d3d3d" stroke-width="1.15" />
<line x1="233.75" y1="524" x2="233.75" y2="529" stroke="#3d3d3d" stroke-width="1.15" />
<text transform="translate(226.76,542.8) scale(0.9800,1)" font-size="13.4" font-weight="bold" fill="#000">30</text>
<line x1="249.04" y1="524" x2="249.04" y2="526.8" stroke="#3d3d3d" stroke-width="1.15" />
<line x1="264.32" y1="524" x2="264.32" y2="529" stroke="#3d3d3d" stroke-width="1.15" />
<text transform="translate(257.4,542.8) scale(0.9800,1)" font-size="13.4" font-weight="bold" fill="#000">40</text>
<line x1="279.61" y1="524" x2="279.61" y2="526.8" stroke="#3d3d3d" stroke-width="1.15" />
<line x1="294.9" y1="524" x2="294.9" y2="529" stroke="#3d3d3d" stroke-width="1.15" />
<text transform="translate(287.88,542.8) scale(0.9800,1)" font-size="13.4" font-weight="bold" fill="#000">50</text>
<text transform="translate(11.8,472.44) rotate(-90) scale(0.9748,1)" font-size="14.8" font-weight="bold" fill="#000">Band energy (eV)</text>
<text transform="translate(122.56,566.9) scale(0.9565,1)" font-size="14.4" font-weight="bold" fill="#000">Thickness (nm)</text>
<text transform="translate(54.98,310.6) scale(1.1706,1)" font-size="10.3" font-weight="normal" fill="#000">(c)</text>
<text transform="translate(96.47,311.2) scale(1.1528,1)" font-size="10.5" font-weight="bold" fill="#000">u-GaN</text>
<text transform="translate(143.21,311.2) scale(1.1146,1)" font-size="10.5" font-weight="bold" fill="#000">AlGaN</text>
<text transform="translate(178.49,311.2) scale(1.1570,1)" font-size="10.5" font-weight="bold" fill="#1212f2">(uGaN)</text>
<text transform="translate(236.04,311.2) scale(1.1150,1)" font-size="10.5" font-weight="bold" fill="#000">p-GaN</text>
<line x1="50.3" y1="338.6" x2="75.4" y2="338.6" stroke="#141414" stroke-width="1.7" />
<line x1="50.3" y1="370.4" x2="75.4" y2="370.4" stroke="#1010ff" stroke-width="1.7" />
<text transform="translate(78.9,342) scale(1.1882,1)" font-size="10.6" font-weight="bold" fill="#000">w/o u-GaN</text>
<text transform="translate(77.57,358) scale(1.1971,1)" font-size="10.6" font-weight="bold" fill="#000">(ideal)</text>
<text transform="translate(78.9,373.9) scale(1.1745,1)" font-size="10.6" font-weight="bold" fill="#000">w/ u-GaN</text>
<text transform="translate(238.71,432.8) scale(0.8600,1)" font-size="14.2" font-weight="bold" fill="#000">E</text>
<text transform="translate(247.73,437.9) scale(0.9780,1)" font-size="11.4" font-weight="bold" fill="#000">fn</text>
<clipPath id="cd"><rect x="395.0" y="297.3" width="189.89999999999998" height="226.7"/></clipPath>
<g clip-path="url(#cd)">
<polyline points="400.5,524.5 458.4,395 474,364 490.6,347 506.1,340.3 521.6,336.3 538,334 553.4,332.8 568.9,331.6 585.5,330.5" fill="none" stroke="#141414" stroke-width="1.5" stroke-linejoin="round" />
<polyline points="394.7,524.5 457.9,383.4 473.9,357.6 490.2,344.2 506.1,339.3 521.6,336 538,333.9 553.4,332.7 568.9,331.5 585.5,330.4" fill="none" stroke="#1010ff" stroke-width="1.5" stroke-linejoin="round" />
</g>
<rect x="395.0" y="297.3" width="189.89999999999998" height="226.7" fill="none" stroke="#3d3d3d" stroke-width="1.35"/>
<line x1="390.3" y1="524" x2="395" y2="524" stroke="#111" stroke-width="1.0" />
<line x1="392.1" y1="520.9" x2="395" y2="520.9" stroke="#111" stroke-width="1.0" />
<line x1="392.1" y1="519.08" x2="395" y2="519.08" stroke="#111" stroke-width="1.0" />
<line x1="392.1" y1="517.8" x2="395" y2="517.8" stroke="#111" stroke-width="1.0" />
<line x1="392.1" y1="516.8" x2="395" y2="516.8" stroke="#111" stroke-width="1.0" />
<line x1="392.1" y1="515.98" x2="395" y2="515.98" stroke="#111" stroke-width="1.0" />
<line x1="392.1" y1="515.29" x2="395" y2="515.29" stroke="#111" stroke-width="1.0" />
<line x1="392.1" y1="514.69" x2="395" y2="514.69" stroke="#111" stroke-width="1.0" />
<line x1="392.1" y1="514.17" x2="395" y2="514.17" stroke="#111" stroke-width="1.0" />
<line x1="390.3" y1="513.7" x2="395" y2="513.7" stroke="#111" stroke-width="1.0" />
<line x1="392.1" y1="510.59" x2="395" y2="510.59" stroke="#111" stroke-width="1.0" />
<line x1="392.1" y1="508.78" x2="395" y2="508.78" stroke="#111" stroke-width="1.0" />
<line x1="392.1" y1="507.49" x2="395" y2="507.49" stroke="#111" stroke-width="1.0" />
<line x1="392.1" y1="506.49" x2="395" y2="506.49" stroke="#111" stroke-width="1.0" />
<line x1="392.1" y1="505.68" x2="395" y2="505.68" stroke="#111" stroke-width="1.0" />
<line x1="392.1" y1="504.99" x2="395" y2="504.99" stroke="#111" stroke-width="1.0" />
<line x1="392.1" y1="504.39" x2="395" y2="504.39" stroke="#111" stroke-width="1.0" />
<line x1="392.1" y1="503.86" x2="395" y2="503.86" stroke="#111" stroke-width="1.0" />
<line x1="390.3" y1="503.39" x2="395" y2="503.39" stroke="#111" stroke-width="1.0" />
<line x1="392.1" y1="500.29" x2="395" y2="500.29" stroke="#111" stroke-width="1.0" />
<line x1="392.1" y1="498.47" x2="395" y2="498.47" stroke="#111" stroke-width="1.0" />
<line x1="392.1" y1="497.19" x2="395" y2="497.19" stroke="#111" stroke-width="1.0" />
<line x1="392.1" y1="496.19" x2="395" y2="496.19" stroke="#111" stroke-width="1.0" />
<line x1="392.1" y1="495.37" x2="395" y2="495.37" stroke="#111" stroke-width="1.0" />
<line x1="392.1" y1="494.68" x2="395" y2="494.68" stroke="#111" stroke-width="1.0" />
<line x1="392.1" y1="494.08" x2="395" y2="494.08" stroke="#111" stroke-width="1.0" />
<line x1="392.1" y1="493.56" x2="395" y2="493.56" stroke="#111" stroke-width="1.0" />
<line x1="390.3" y1="493.08" x2="395" y2="493.08" stroke="#111" stroke-width="1.0" />
<line x1="392.1" y1="489.98" x2="395" y2="489.98" stroke="#111" stroke-width="1.0" />
<line x1="392.1" y1="488.17" x2="395" y2="488.17" stroke="#111" stroke-width="1.0" />
<line x1="392.1" y1="486.88" x2="395" y2="486.88" stroke="#111" stroke-width="1.0" />
<line x1="392.1" y1="485.88" x2="395" y2="485.88" stroke="#111" stroke-width="1.0" />
<line x1="392.1" y1="485.07" x2="395" y2="485.07" stroke="#111" stroke-width="1.0" />
<line x1="392.1" y1="484.38" x2="395" y2="484.38" stroke="#111" stroke-width="1.0" />
<line x1="392.1" y1="483.78" x2="395" y2="483.78" stroke="#111" stroke-width="1.0" />
<line x1="392.1" y1="483.25" x2="395" y2="483.25" stroke="#111" stroke-width="1.0" />
<line x1="390.3" y1="482.78" x2="395" y2="482.78" stroke="#111" stroke-width="1.0" />
<line x1="392.1" y1="479.68" x2="395" y2="479.68" stroke="#111" stroke-width="1.0" />
<line x1="392.1" y1="477.86" x2="395" y2="477.86" stroke="#111" stroke-width="1.0" />
<line x1="392.1" y1="476.58" x2="395" y2="476.58" stroke="#111" stroke-width="1.0" />
<line x1="392.1" y1="475.58" x2="395" y2="475.58" stroke="#111" stroke-width="1.0" />
<line x1="392.1" y1="474.76" x2="395" y2="474.76" stroke="#111" stroke-width="1.0" />
<line x1="392.1" y1="474.07" x2="395" y2="474.07" stroke="#111" stroke-width="1.0" />
<line x1="392.1" y1="473.47" x2="395" y2="473.47" stroke="#111" stroke-width="1.0" />
<line x1="392.1" y1="472.95" x2="395" y2="472.95" stroke="#111" stroke-width="1.0" />
<line x1="390.3" y1="472.48" x2="395" y2="472.48" stroke="#111" stroke-width="1.0" />
<line x1="392.1" y1="469.37" x2="395" y2="469.37" stroke="#111" stroke-width="1.0" />
<line x1="392.1" y1="467.56" x2="395" y2="467.56" stroke="#111" stroke-width="1.0" />
<line x1="392.1" y1="466.27" x2="395" y2="466.27" stroke="#111" stroke-width="1.0" />
<line x1="392.1" y1="465.27" x2="395" y2="465.27" stroke="#111" stroke-width="1.0" />
<line x1="392.1" y1="464.46" x2="395" y2="464.46" stroke="#111" stroke-width="1.0" />
<line x1="392.1" y1="463.77" x2="395" y2="463.77" stroke="#111" stroke-width="1.0" />
<line x1="392.1" y1="463.17" x2="395" y2="463.17" stroke="#111" stroke-width="1.0" />
<line x1="392.1" y1="462.64" x2="395" y2="462.64" stroke="#111" stroke-width="1.0" />
<line x1="390.3" y1="462.17" x2="395" y2="462.17" stroke="#111" stroke-width="1.0" />
<line x1="392.1" y1="459.07" x2="395" y2="459.07" stroke="#111" stroke-width="1.0" />
<line x1="392.1" y1="457.25" x2="395" y2="457.25" stroke="#111" stroke-width="1.0" />
<line x1="392.1" y1="455.97" x2="395" y2="455.97" stroke="#111" stroke-width="1.0" />
<line x1="392.1" y1="454.97" x2="395" y2="454.97" stroke="#111" stroke-width="1.0" />
<line x1="392.1" y1="454.15" x2="395" y2="454.15" stroke="#111" stroke-width="1.0" />
<line x1="392.1" y1="453.46" x2="395" y2="453.46" stroke="#111" stroke-width="1.0" />
<line x1="392.1" y1="452.86" x2="395" y2="452.86" stroke="#111" stroke-width="1.0" />
<line x1="392.1" y1="452.34" x2="395" y2="452.34" stroke="#111" stroke-width="1.0" />
<line x1="390.3" y1="451.87" x2="395" y2="451.87" stroke="#111" stroke-width="1.0" />
<line x1="392.1" y1="448.76" x2="395" y2="448.76" stroke="#111" stroke-width="1.0" />
<line x1="392.1" y1="446.95" x2="395" y2="446.95" stroke="#111" stroke-width="1.0" />
<line x1="392.1" y1="445.66" x2="395" y2="445.66" stroke="#111" stroke-width="1.0" />
<line x1="392.1" y1="444.66" x2="395" y2="444.66" stroke="#111" stroke-width="1.0" />
<line x1="392.1" y1="443.85" x2="395" y2="443.85" stroke="#111" stroke-width="1.0" />
<line x1="392.1" y1="443.16" x2="395" y2="443.16" stroke="#111" stroke-width="1.0" />
<line x1="392.1" y1="442.56" x2="395" y2="442.56" stroke="#111" stroke-width="1.0" />
<line x1="392.1" y1="442.03" x2="395" y2="442.03" stroke="#111" stroke-width="1.0" />
<line x1="390.3" y1="441.56" x2="395" y2="441.56" stroke="#111" stroke-width="1.0" />
<line x1="392.1" y1="438.46" x2="395" y2="438.46" stroke="#111" stroke-width="1.0" />
<line x1="392.1" y1="436.64" x2="395" y2="436.64" stroke="#111" stroke-width="1.0" />
<line x1="392.1" y1="435.36" x2="395" y2="435.36" stroke="#111" stroke-width="1.0" />
<line x1="392.1" y1="434.36" x2="395" y2="434.36" stroke="#111" stroke-width="1.0" />
<line x1="392.1" y1="433.54" x2="395" y2="433.54" stroke="#111" stroke-width="1.0" />
<line x1="392.1" y1="432.85" x2="395" y2="432.85" stroke="#111" stroke-width="1.0" />
<line x1="392.1" y1="432.25" x2="395" y2="432.25" stroke="#111" stroke-width="1.0" />
<line x1="392.1" y1="431.73" x2="395" y2="431.73" stroke="#111" stroke-width="1.0" />
<line x1="390.3" y1="431.25" x2="395" y2="431.25" stroke="#111" stroke-width="1.0" />
<line x1="392.1" y1="428.15" x2="395" y2="428.15" stroke="#111" stroke-width="1.0" />
<line x1="392.1" y1="426.34" x2="395" y2="426.34" stroke="#111" stroke-width="1.0" />
<line x1="392.1" y1="425.05" x2="395" y2="425.05" stroke="#111" stroke-width="1.0" />
<line x1="392.1" y1="424.05" x2="395" y2="424.05" stroke="#111" stroke-width="1.0" />
<line x1="392.1" y1="423.24" x2="395" y2="423.24" stroke="#111" stroke-width="1.0" />
<line x1="392.1" y1="422.55" x2="395" y2="422.55" stroke="#111" stroke-width="1.0" />
<line x1="392.1" y1="421.95" x2="395" y2="421.95" stroke="#111" stroke-width="1.0" />
<line x1="392.1" y1="421.42" x2="395" y2="421.42" stroke="#111" stroke-width="1.0" />
<line x1="390.3" y1="420.95" x2="395" y2="420.95" stroke="#111" stroke-width="1.0" />
<line x1="392.1" y1="417.85" x2="395" y2="417.85" stroke="#111" stroke-width="1.0" />
<line x1="392.1" y1="416.03" x2="395" y2="416.03" stroke="#111" stroke-width="1.0" />
<line x1="392.1" y1="414.75" x2="395" y2="414.75" stroke="#111" stroke-width="1.0" />
<line x1="392.1" y1="413.75" x2="395" y2="413.75" stroke="#111" stroke-width="1.0" />
<line x1="392.1" y1="412.93" x2="395" y2="412.93" stroke="#111" stroke-width="1.0" />
<line x1="392.1" y1="412.24" x2="395" y2="412.24" stroke="#111" stroke-width="1.0" />
<line x1="392.1" y1="411.64" x2="395" y2="411.64" stroke="#111" stroke-width="1.0" />
<line x1="392.1" y1="411.12" x2="395" y2="411.12" stroke="#111" stroke-width="1.0" />
<line x1="390.3" y1="410.64" x2="395" y2="410.64" stroke="#111" stroke-width="1.0" />
<line x1="392.1" y1="407.54" x2="395" y2="407.54" stroke="#111" stroke-width="1.0" />
<line x1="392.1" y1="405.73" x2="395" y2="405.73" stroke="#111" stroke-width="1.0" />
<line x1="392.1" y1="404.44" x2="395" y2="404.44" stroke="#111" stroke-width="1.0" />
<line x1="392.1" y1="403.44" x2="395" y2="403.44" stroke="#111" stroke-width="1.0" />
<line x1="392.1" y1="402.63" x2="395" y2="402.63" stroke="#111" stroke-width="1.0" />
<line x1="392.1" y1="401.94" x2="395" y2="401.94" stroke="#111" stroke-width="1.0" />
<line x1="392.1" y1="401.34" x2="395" y2="401.34" stroke="#111" stroke-width="1.0" />
<line x1="392.1" y1="400.81" x2="395" y2="400.81" stroke="#111" stroke-width="1.0" />
<line x1="390.3" y1="400.34" x2="395" y2="400.34" stroke="#111" stroke-width="1.0" />
<line x1="392.1" y1="397.24" x2="395" y2="397.24" stroke="#111" stroke-width="1.0" />
<line x1="392.1" y1="395.42" x2="395" y2="395.42" stroke="#111" stroke-width="1.0" />
<line x1="392.1" y1="394.14" x2="395" y2="394.14" stroke="#111" stroke-width="1.0" />
<line x1="392.1" y1="393.14" x2="395" y2="393.14" stroke="#111" stroke-width="1.0" />
<line x1="392.1" y1="392.32" x2="395" y2="392.32" stroke="#111" stroke-width="1.0" />
<line x1="392.1" y1="391.63" x2="395" y2="391.63" stroke="#111" stroke-width="1.0" />
<line x1="392.1" y1="391.03" x2="395" y2="391.03" stroke="#111" stroke-width="1.0" />
<line x1="392.1" y1="390.51" x2="395" y2="390.51" stroke="#111" stroke-width="1.0" />
<line x1="390.3" y1="390.03" x2="395" y2="390.03" stroke="#111" stroke-width="1.0" />
<line x1="392.1" y1="386.93" x2="395" y2="386.93" stroke="#111" stroke-width="1.0" />
<line x1="392.1" y1="385.12" x2="395" y2="385.12" stroke="#111" stroke-width="1.0" />
<line x1="392.1" y1="383.83" x2="395" y2="383.83" stroke="#111" stroke-width="1.0" />
<line x1="392.1" y1="382.83" x2="395" y2="382.83" stroke="#111" stroke-width="1.0" />
<line x1="392.1" y1="382.02" x2="395" y2="382.02" stroke="#111" stroke-width="1.0" />
<line x1="392.1" y1="381.33" x2="395" y2="381.33" stroke="#111" stroke-width="1.0" />
<line x1="392.1" y1="380.73" x2="395" y2="380.73" stroke="#111" stroke-width="1.0" />
<line x1="392.1" y1="380.2" x2="395" y2="380.2" stroke="#111" stroke-width="1.0" />
<line x1="390.3" y1="379.73" x2="395" y2="379.73" stroke="#111" stroke-width="1.0" />
<line x1="392.1" y1="376.63" x2="395" y2="376.63" stroke="#111" stroke-width="1.0" />
<line x1="392.1" y1="374.81" x2="395" y2="374.81" stroke="#111" stroke-width="1.0" />
<line x1="392.1" y1="373.53" x2="395" y2="373.53" stroke="#111" stroke-width="1.0" />
<line x1="392.1" y1="372.53" x2="395" y2="372.53" stroke="#111" stroke-width="1.0" />
<line x1="392.1" y1="371.71" x2="395" y2="371.71" stroke="#111" stroke-width="1.0" />
<line x1="392.1" y1="371.02" x2="395" y2="371.02" stroke="#111" stroke-width="1.0" />
<line x1="392.1" y1="370.42" x2="395" y2="370.42" stroke="#111" stroke-width="1.0" />
<line x1="392.1" y1="369.9" x2="395" y2="369.9" stroke="#111" stroke-width="1.0" />
<line x1="390.3" y1="369.43" x2="395" y2="369.43" stroke="#111" stroke-width="1.0" />
<line x1="392.1" y1="366.32" x2="395" y2="366.32" stroke="#111" stroke-width="1.0" />
<line x1="392.1" y1="364.51" x2="395" y2="364.51" stroke="#111" stroke-width="1.0" />
<line x1="392.1" y1="363.22" x2="395" y2="363.22" stroke="#111" stroke-width="1.0" />
<line x1="392.1" y1="362.22" x2="395" y2="362.22" stroke="#111" stroke-width="1.0" />
<line x1="392.1" y1="361.41" x2="395" y2="361.41" stroke="#111" stroke-width="1.0" />
<line x1="392.1" y1="360.72" x2="395" y2="360.72" stroke="#111" stroke-width="1.0" />
<line x1="392.1" y1="360.12" x2="395" y2="360.12" stroke="#111" stroke-width="1.0" />
<line x1="392.1" y1="359.59" x2="395" y2="359.59" stroke="#111" stroke-width="1.0" />
<line x1="390.3" y1="359.12" x2="395" y2="359.12" stroke="#111" stroke-width="1.0" />
<line x1="392.1" y1="356.02" x2="395" y2="356.02" stroke="#111" stroke-width="1.0" />
<line x1="392.1" y1="354.2" x2="395" y2="354.2" stroke="#111" stroke-width="1.0" />
<line x1="392.1" y1="352.92" x2="395" y2="352.92" stroke="#111" stroke-width="1.0" />
<line x1="392.1" y1="351.92" x2="395" y2="351.92" stroke="#111" stroke-width="1.0" />
<line x1="392.1" y1="351.1" x2="395" y2="351.1" stroke="#111" stroke-width="1.0" />
<line x1="392.1" y1="350.41" x2="395" y2="350.41" stroke="#111" stroke-width="1.0" />
<line x1="392.1" y1="349.81" x2="395" y2="349.81" stroke="#111" stroke-width="1.0" />
<line x1="392.1" y1="349.29" x2="395" y2="349.29" stroke="#111" stroke-width="1.0" />
<line x1="390.3" y1="348.81" x2="395" y2="348.81" stroke="#111" stroke-width="1.0" />
<line x1="392.1" y1="345.71" x2="395" y2="345.71" stroke="#111" stroke-width="1.0" />
<line x1="392.1" y1="343.9" x2="395" y2="343.9" stroke="#111" stroke-width="1.0" />
<line x1="392.1" y1="342.61" x2="395" y2="342.61" stroke="#111" stroke-width="1.0" />
<line x1="392.1" y1="341.61" x2="395" y2="341.61" stroke="#111" stroke-width="1.0" />
<line x1="392.1" y1="340.8" x2="395" y2="340.8" stroke="#111" stroke-width="1.0" />
<line x1="392.1" y1="340.11" x2="395" y2="340.11" stroke="#111" stroke-width="1.0" />
<line x1="392.1" y1="339.51" x2="395" y2="339.51" stroke="#111" stroke-width="1.0" />
<line x1="392.1" y1="338.98" x2="395" y2="338.98" stroke="#111" stroke-width="1.0" />
<line x1="390.3" y1="338.51" x2="395" y2="338.51" stroke="#111" stroke-width="1.0" />
<line x1="392.1" y1="335.41" x2="395" y2="335.41" stroke="#111" stroke-width="1.0" />
<line x1="392.1" y1="333.59" x2="395" y2="333.59" stroke="#111" stroke-width="1.0" />
<line x1="392.1" y1="332.31" x2="395" y2="332.31" stroke="#111" stroke-width="1.0" />
<line x1="392.1" y1="331.31" x2="395" y2="331.31" stroke="#111" stroke-width="1.0" />
<line x1="392.1" y1="330.49" x2="395" y2="330.49" stroke="#111" stroke-width="1.0" />
<line x1="392.1" y1="329.8" x2="395" y2="329.8" stroke="#111" stroke-width="1.0" />
<line x1="392.1" y1="329.2" x2="395" y2="329.2" stroke="#111" stroke-width="1.0" />
<line x1="392.1" y1="328.68" x2="395" y2="328.68" stroke="#111" stroke-width="1.0" />
<line x1="390.3" y1="328.21" x2="395" y2="328.21" stroke="#111" stroke-width="1.0" />
<line x1="392.1" y1="325.1" x2="395" y2="325.1" stroke="#111" stroke-width="1.0" />
<line x1="392.1" y1="323.29" x2="395" y2="323.29" stroke="#111" stroke-width="1.0" />
<line x1="392.1" y1="322" x2="395" y2="322" stroke="#111" stroke-width="1.0" />
<line x1="392.1" y1="321" x2="395" y2="321" stroke="#111" stroke-width="1.0" />
<line x1="392.1" y1="320.19" x2="395" y2="320.19" stroke="#111" stroke-width="1.0" />
<line x1="392.1" y1="319.5" x2="395" y2="319.5" stroke="#111" stroke-width="1.0" />
<line x1="392.1" y1="318.9" x2="395" y2="318.9" stroke="#111" stroke-width="1.0" />
<line x1="392.1" y1="318.37" x2="395" y2="318.37" stroke="#111" stroke-width="1.0" />
<line x1="390.3" y1="317.9" x2="395" y2="317.9" stroke="#111" stroke-width="1.0" />
<line x1="392.1" y1="314.8" x2="395" y2="314.8" stroke="#111" stroke-width="1.0" />
<line x1="392.1" y1="312.98" x2="395" y2="312.98" stroke="#111" stroke-width="1.0" />
<line x1="392.1" y1="311.7" x2="395" y2="311.7" stroke="#111" stroke-width="1.0" />
<line x1="392.1" y1="310.7" x2="395" y2="310.7" stroke="#111" stroke-width="1.0" />
<line x1="392.1" y1="309.88" x2="395" y2="309.88" stroke="#111" stroke-width="1.0" />
<line x1="392.1" y1="309.19" x2="395" y2="309.19" stroke="#111" stroke-width="1.0" />
<line x1="392.1" y1="308.59" x2="395" y2="308.59" stroke="#111" stroke-width="1.0" />
<line x1="392.1" y1="308.07" x2="395" y2="308.07" stroke="#111" stroke-width="1.0" />
<line x1="390.3" y1="307.6" x2="395" y2="307.6" stroke="#111" stroke-width="1.0" />
<line x1="392.1" y1="304.49" x2="395" y2="304.49" stroke="#111" stroke-width="1.0" />
<line x1="392.1" y1="302.68" x2="395" y2="302.68" stroke="#111" stroke-width="1.0" />
<line x1="392.1" y1="301.39" x2="395" y2="301.39" stroke="#111" stroke-width="1.0" />
<line x1="392.1" y1="300.39" x2="395" y2="300.39" stroke="#111" stroke-width="1.0" />
<line x1="392.1" y1="299.58" x2="395" y2="299.58" stroke="#111" stroke-width="1.0" />
<line x1="392.1" y1="298.89" x2="395" y2="298.89" stroke="#111" stroke-width="1.0" />
<line x1="392.1" y1="298.29" x2="395" y2="298.29" stroke="#111" stroke-width="1.0" />
<line x1="392.1" y1="297.76" x2="395" y2="297.76" stroke="#111" stroke-width="1.0" />
<line x1="390.3" y1="297.3" x2="395" y2="297.3" stroke="#111" stroke-width="1.0" />
<text transform="translate(380.69,520.9) scale(0.9800,1)" font-size="8.6" font-weight="bold" fill="#000">-6</text>
<text transform="translate(365.87,528.7) scale(0.9600,1)" font-size="13.4" font-weight="bold" fill="#000">10</text>
<text transform="translate(380.69,489.98) scale(0.9800,1)" font-size="8.6" font-weight="bold" fill="#000">-3</text>
<text transform="translate(365.87,497.78) scale(0.9600,1)" font-size="13.4" font-weight="bold" fill="#000">10</text>
<text transform="translate(383.56,459.07) scale(0.9800,1)" font-size="8.6" font-weight="bold" fill="#000">0</text>
<text transform="translate(368.73,466.87) scale(0.9600,1)" font-size="13.4" font-weight="bold" fill="#000">10</text>
<text transform="translate(383.52,428.15) scale(0.9800,1)" font-size="8.6" font-weight="bold" fill="#000">3</text>
<text transform="translate(368.56,435.95) scale(0.9600,1)" font-size="13.4" font-weight="bold" fill="#000">10</text>
<text transform="translate(383.52,397.24) scale(0.9800,1)" font-size="8.6" font-weight="bold" fill="#000">6</text>
<text transform="translate(368.65,405.04) scale(0.9600,1)" font-size="13.4" font-weight="bold" fill="#000">10</text>
<text transform="translate(383.52,366.32) scale(0.9800,1)" font-size="8.6" font-weight="bold" fill="#000">9</text>
<text transform="translate(368.65,374.12) scale(0.9600,1)" font-size="13.4" font-weight="bold" fill="#000">10</text>
<text transform="translate(378.88,335.41) scale(0.9800,1)" font-size="8.6" font-weight="bold" fill="#000">12</text>
<text transform="translate(364.27,343.21) scale(0.9600,1)" font-size="13.4" font-weight="bold" fill="#000">10</text>
<text transform="translate(378.76,304.5) scale(0.9800,1)" font-size="8.6" font-weight="bold" fill="#000">15</text>
<text transform="translate(364.14,312.3) scale(0.9600,1)" font-size="13.4" font-weight="bold" fill="#000">10</text>
<line x1="395" y1="524" x2="395" y2="529" stroke="#3d3d3d" stroke-width="1.15" />
<text transform="translate(386.07,542.8) scale(0.9800,1)" font-size="13.4" font-weight="bold" fill="#000">0.0</text>
<line x1="410.82" y1="524" x2="410.82" y2="526.6" stroke="#3d3d3d" stroke-width="1.15" />
<line x1="426.65" y1="524" x2="426.65" y2="529" stroke="#3d3d3d" stroke-width="1.15" />
<text transform="translate(417.62,542.8) scale(0.9800,1)" font-size="13.4" font-weight="bold" fill="#000">0.5</text>
<line x1="442.48" y1="524" x2="442.48" y2="526.6" stroke="#3d3d3d" stroke-width="1.15" />
<line x1="458.3" y1="524" x2="458.3" y2="529" stroke="#3d3d3d" stroke-width="1.15" />
<text transform="translate(449.21,542.8) scale(0.9800,1)" font-size="13.4" font-weight="bold" fill="#000">1.0</text>
<line x1="474.12" y1="524" x2="474.12" y2="526.6" stroke="#3d3d3d" stroke-width="1.15" />
<line x1="489.95" y1="524" x2="489.95" y2="529" stroke="#3d3d3d" stroke-width="1.15" />
<text transform="translate(480.76,542.8) scale(0.9800,1)" font-size="13.4" font-weight="bold" fill="#000">1.5</text>
<line x1="505.77" y1="524" x2="505.77" y2="526.6" stroke="#3d3d3d" stroke-width="1.15" />
<line x1="521.6" y1="524" x2="521.6" y2="529" stroke="#3d3d3d" stroke-width="1.15" />
<text transform="translate(512.71,542.8) scale(0.9800,1)" font-size="13.4" font-weight="bold" fill="#000">2.0</text>
<line x1="537.42" y1="524" x2="537.42" y2="526.6" stroke="#3d3d3d" stroke-width="1.15" />
<line x1="553.25" y1="524" x2="553.25" y2="529" stroke="#3d3d3d" stroke-width="1.15" />
<text transform="translate(544.26,542.8) scale(0.9800,1)" font-size="13.4" font-weight="bold" fill="#000">2.5</text>
<line x1="569.08" y1="524" x2="569.08" y2="526.6" stroke="#3d3d3d" stroke-width="1.15" />
<line x1="584.9" y1="524" x2="584.9" y2="529" stroke="#3d3d3d" stroke-width="1.15" />
<text transform="translate(576.07,542.8) scale(0.9800,1)" font-size="13.4" font-weight="bold" fill="#000">3.0</text>
<text transform="translate(362.2,506.13) rotate(-90) scale(0.9664,1)" font-size="14.8" font-weight="bold" fill="#000">Sheet concentration (1/cm</text>
<text transform="translate(353.7,328.11) rotate(-90) scale(1.2153,1)" font-size="9.6" font-weight="bold" fill="#000">2</text>
<text transform="translate(362,321.28) rotate(-90) scale(1.1905,1)" font-size="13.2" font-weight="bold" fill="#000">)</text>
<text transform="translate(437.15,567.6) scale(0.9579,1)" font-size="14.4" font-weight="bold" fill="#000">Gate voltage (V)</text>
<text transform="translate(400.17,310.4) scale(1.1195,1)" font-size="10.8" font-weight="normal" fill="#000">(d)</text>
<text transform="translate(528.77,310.3) scale(1.0140,1)" font-size="13.2" font-weight="bold" fill="#000">V</text>
<text transform="translate(537.4,315.6) scale(1.0951,1)" font-size="9.8" font-weight="bold" fill="#000">D</text>
<text transform="translate(548.55,308.6) scale(1.0351,1)" font-size="13.2" font-weight="bold" fill="#000">=</text>
<text transform="translate(561.26,310.3) scale(0.8293,1)" font-size="13.2" font-weight="bold" fill="#000">0</text>
<text transform="translate(571.96,310.3) scale(1.0606,1)" font-size="13.2" font-weight="bold" fill="#000">V</text>
<line x1="443.3" y1="493.9" x2="468.3" y2="493.9" stroke="#222" stroke-width="1.35" />
<line x1="443.3" y1="511.3" x2="468.3" y2="511.3" stroke="#1010ff" stroke-width="1.35" />
<text transform="translate(472.4,498.1) scale(1.0917,1)" font-size="11.8" font-weight="bold" fill="#000">w/o u-GaN (ideal)</text>
<text transform="translate(472.6,514.9) scale(1.0869,1)" font-size="11.8" font-weight="bold" fill="#000">w/ u-GaN</text>
</svg></body></html>
